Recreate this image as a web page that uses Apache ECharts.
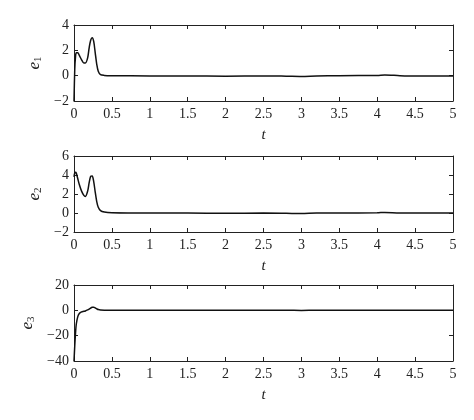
<!DOCTYPE html>
<html>
<head>
<meta charset="utf-8">
<script src="https://cdn.jsdelivr.net/npm/echarts@6/dist/echarts.min.js"></script>
<style>
  html, body { margin: 0; padding: 0; background: #fff; }
  #chart { width: 474px; height: 420px; }
</style>
</head>
<body>
<div id="chart"></div>
<script>
// time samples (s)
var tValues = [0, 0.01, 0.02, 0.03, 0.05, 0.07, 0.1, 0.13, 0.15, 0.18, 0.2, 0.22, 0.24, 0.26, 0.28, 0.3, 0.32, 0.35, 0.4, 0.5,
    1, 1.5, 2, 2.5, 2.8, 3, 3.2, 3.5, 4, 4.1, 4.3, 4.5, 5];
var e1Values = [-2, 0.5, 1.5, 1.8, 1.8, 1.6, 1.25, 1.0, 1.0, 1.4, 2.2, 2.8, 3.0, 2.7, 1.8, 0.9, 0.35, 0.08, 0.02, 0,
    -0.02, -0.02, -0.04, -0.02, -0.04, -0.06, -0.02, 0, 0.02, 0.06, 0, -0.03, -0.02];
var e2Values = [3.8, 4.2, 4.3, 4.2, 3.6, 3.0, 2.3, 1.85, 1.75, 2.3, 3.2, 3.85, 3.9, 3.3, 2.2, 1.2, 0.6, 0.25, 0.1, 0.03,
    0, 0, -0.03, 0, -0.03, -0.06, 0, 0, 0.02, 0.06, 0, 0, 0];
var e3Values = [-40, -28, -18, -11, -5, -2.5, -1.2, -0.8, -0.5, 0.3, 1.0, 1.8, 2.4, 2.5, 1.9, 1.2, 0.6, 0.2, 0.05, 0,
    0, 0, 0, 0, 0, -0.05, 0, 0, 0, 0.05, 0, 0, 0];
var yRanges = [[-2, 4, 2], [-2, 6, 2], [-40, 20, 20]];
var xRange = [0, 5, 0.5];
var panelNames = ['1', '2', '3'];

var chart = echarts.init(document.getElementById('chart'));
var font = 'Liberation Serif';
var gridTops = [25, 156, 285];
var seriesValues = [e1Values, e2Values, e3Values];

var grids = [], xAxes = [], yAxes = [], series = [];
function minusFmt(v) {
    return String(v).replace('-', '\u2212');
}
for (var i = 0; i < 3; i++) {
    grids.push({ left: 74, right: 21, top: gridTops[i], height: 76 });
    var axisLine = { show: true, onZero: false, lineStyle: { color: '#222', width: 1 } };
    var tick = { show: true, inside: true, length: 4, lineStyle: { color: '#222' } };
    xAxes.push({
        type: 'value', gridIndex: i, position: 'bottom',
        min: xRange[0], max: xRange[1], interval: xRange[2],
        axisLine: axisLine, axisTick: tick, splitLine: { show: false },
        axisLabel: { color: '#222', fontFamily: font, fontSize: 14, margin: 6 },
        name: 't', nameLocation: 'middle', nameGap: 27,
        nameTextStyle: { color: '#222', fontFamily: font, fontSize: 15, fontStyle: 'italic' }
    });
    xAxes.push({
        type: 'value', gridIndex: i, position: 'top',
        min: xRange[0], max: xRange[1], interval: xRange[2],
        axisLine: axisLine, axisTick: tick, splitLine: { show: false },
        axisLabel: { show: false }
    });
    var r = yRanges[i];
    yAxes.push({
        type: 'value', gridIndex: i, position: 'left',
        min: r[0], max: r[1], interval: r[2],
        axisLine: axisLine, axisTick: tick, splitLine: { show: false },
        axisLabel: { color: '#222', fontFamily: font, fontSize: 14, margin: 5, formatter: minusFmt },
        name: '{e|e}{s|' + panelNames[i] + '}', nameLocation: 'middle', nameGap: i === 2 ? 36 : 30, nameRotate: 90,
        nameTextStyle: {
            rich: {
                e: { fontFamily: font, fontSize: 17, fontStyle: 'italic', color: '#222' },
                s: { fontFamily: font, fontSize: 11, color: '#222', verticalAlign: 'bottom', padding: [7, 0, 0, 0] }
            }
        }
    });
    yAxes.push({
        type: 'value', gridIndex: i, position: 'right',
        min: r[0], max: r[1], interval: r[2],
        axisLine: axisLine, axisTick: tick, splitLine: { show: false },
        axisLabel: { show: false }
    });
    var pts = [];
    for (var k = 0; k < tValues.length; k++) {
        pts.push([tValues[k], seriesValues[i][k]]);
    }
    series.push({
        type: 'line', xAxisIndex: 2 * i, yAxisIndex: 2 * i,
        data: pts, showSymbol: false, smooth: 0.3,
        lineStyle: { color: '#111', width: 1.5 }
    });
}

chart.setOption({
    animation: false,
    backgroundColor: '#fff',
    grid: grids,
    xAxis: xAxes,
    yAxis: yAxes,
    series: series
});
</script>
</body>
</html>
